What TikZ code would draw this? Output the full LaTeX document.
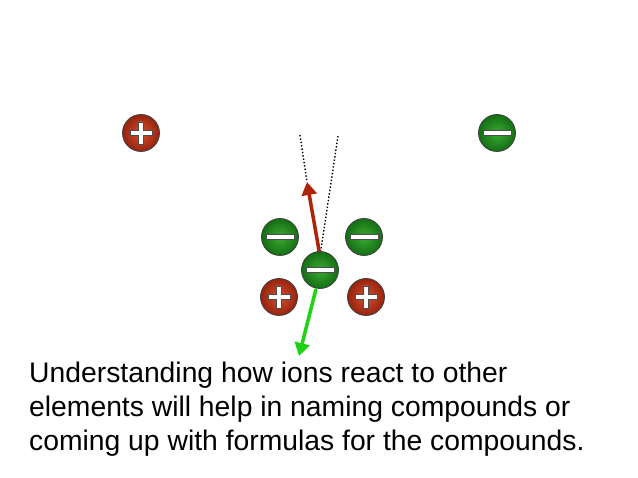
\documentclass[tikz,border=0pt]{standalone}
\usepackage{fontspec}
\setmainfont{Liberation Sans}
\usetikzlibrary{arrows.meta}
\definecolor{redarr}{RGB}{175,35,10}
\definecolor{greenarr}{RGB}{30,210,20}
\definecolor{redin}{RGB}{215,80,45}
\definecolor{redout}{RGB}{150,35,15}
\definecolor{grin}{RGB}{60,170,50}
\definecolor{grout}{RGB}{20,110,20}
\begin{document}
\begin{tikzpicture}[x=1pt,y=-1pt,
  ionbase/.style={circle,minimum size=37pt,inner sep=0pt,draw=black!75,line width=0.8pt},
  posion/.style={ionbase,inner color=redin,outer color=redout,
    path picture={\draw[black!70,fill=white,line width=0.7pt]
      ([xshift=-2.5pt,yshift=11pt]path picture bounding box.center) -- ++(5,0) -- ++(0,8.5) -- ++(8.5,0) -- ++(0,5) -- ++(-8.5,0) -- ++(0,8.5) -- ++(-5,0) -- ++(0,-8.5) -- ++(-8.5,0) -- ++(0,-5) -- ++(8.5,0) -- cycle;}},
  negion/.style={ionbase,inner color=grin,outer color=grout,
    path picture={\draw[black!70,fill=white,line width=0.7pt]
      ([xshift=-14pt,yshift=2.5pt]path picture bounding box.center) rectangle ++(28,5);}},
  dotline/.style={dotted,line width=1.4pt},
  arr/.style={line width=3.5pt,-{Triangle[length=13pt,width=15pt]}}]
\useasboundingbox (0,0) rectangle (638,478);
\node[posion] (p1) at (141,133) {};
\node[negion] (n1) at (497,133) {};
\node[negion] (n2) at (280,237) {};
\node[negion] (n3) at (364,237) {};
\node[posion] (p2) at (279,297) {};
\node[posion] (p3) at (366,297) {};
\coordinate (dl) at (300,135);
\coordinate (dr) at (338,136);
\coordinate (tip) at (307,182);
\coordinate (base) at (320,256);
\coordinate (gtip) at (299,356);
\draw[dotline] (dl) -- (tip);
\draw[dotline] (dr) -- (base);
\draw[arr,redarr] (base) -- (tip);
\node[negion] (c) at (320,270) {};
\draw[arr,greenarr] (316,289) -- (gtip);
\node[anchor=north west,align=left,font=\fontsize{28.3}{34}\selectfont,inner sep=0pt] (txt) at (29,362)
 {Understanding how ions react to other\\elements will help in naming compounds or\\coming up with formulas for the compounds.};
\end{tikzpicture}
\end{document}
